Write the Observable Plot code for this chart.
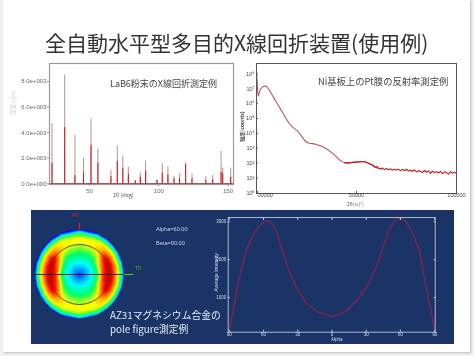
<!DOCTYPE html>
<html><head><meta charset="utf-8">
<style>
html,body{margin:0;padding:0;background:#f1f1f1;}
#slide{position:absolute;left:3px;top:0;width:467px;height:352px;background:#fff;box-shadow:1px 1px 2px #bbb;}
#root{position:absolute;left:0;top:0;width:474px;height:356px;overflow:hidden;font-family:"Noto Sans CJK JP",sans-serif;filter:blur(.3px);}
#panel{position:absolute;left:31px;top:210px;width:423px;height:134px;background:#1a3468;}
.t{position:absolute;white-space:nowrap;line-height:1;}
svg{position:absolute;background:transparent !important;}
</style>
<script src="https://cdn.jsdelivr.net/npm/d3@7"></script>
<script src="https://cdn.jsdelivr.net/npm/@observablehq/plot@0.6"></script>
</head><body><div id="root"><div id="slide"></div><div id="panel"></div></div>
<script>
// --- LaB6 powder diffraction
const peakAngle = [22.8,32,39.4,45.6,51,56,65.4,70,74,78,83,86.6,90.5,98.7,102.5,106.6,111,115,119.4,124,134,139,145,146.2,152];
const peakUpper = [4700,8500,3800,2000,5070,2730,1040,2960,2180,1300,260,860,1770,310,1560,1350,570,780,1600,780,550,650,2550,1220,1220];
const peakLower = [1600,4400,650,830,3000,1600,570,1740,1220,730,210,520,960,260,830,700,390,390,1500,390,260,310,900,800,520];
const xrdTicksY = [0,2000,4000,6000,8000];
const xrdTicksX = [50,100,150];
// --- Reflectivity (x = omega units, y = log10 intensity)
const reflX = [0,320,810,1620,2920,4540,6160,8590,11830,16690,20750,25600,29660,34520,38570,41810,44250,47490,53160,56400,59640,62880];
const reflLog = [8.19,7.52,6.51,6.85,7.11,7.18,6.96,6.40,5.68,4.61,4.12,3.36,3.27,3.00,2.60,2.19,2.01,2.04,2.10,1.97,1.70,1.59];
const tailX = [44000,45000,46000,47000,48000,49000,50000,51000,52000,53000,54000,55000,56000,57000,58000,59000,60000,61000,62000,63000,64000,65000,66000,67000,68000,69000,70000,71000,72000,73000,74000,75000,76000,77000,78000,79000,80000,81000,82000,83000,84000,85000,86000,87000,88000,89000,90000,91000,92000,93000,94000,95000,96000,97000,98000,99000,100000];
const tailLog = [2.03,2.00,2.03,2.01,2.06,2.04,2.08,2.05,2.11,2.07,2.10,2.03,1.99,1.92,1.88,1.74,1.78,1.66,1.62,1.67,1.56,1.63,1.55,1.61,1.52,1.59,1.53,1.58,1.49,1.57,1.50,1.58,1.46,1.52,1.43,1.54,1.40,1.49,1.44,1.36,1.50,1.38,1.46,1.30,1.45,1.37,1.42,1.33,1.44,1.29,1.41,1.36,1.25,1.42,1.31,1.39,1.30];
const reflPowers = [0,1,2,3,4,5,6,7,8];
const superscript = ["⁰","¹","²","³","⁴","⁵","⁶","⁷","⁸"];
const reflTicksX = [50000,100000];
// --- Average intensity versus alpha
const alpha = [-89.5,-85.6,-81.4,-75.8,-70.3,-64.7,-59.2,-55,-50.8,-45.3,-38.3,-31.4,-23,-13.3,0,11.7,22.8,31.1,39.4,46.4,50.6,54.7,60.3,65.8,71.4,76.9,82.5,86.7,89.4];
const avgIntensity = [210,810,1520,2180,2600,2865,3010,3030,2900,2420,1755,1270,870,630,490,630,960,1310,1840,2460,2820,3030,3120,2980,2650,2210,1280,660,210];
const alphaTicks = [-90,-60,-30,0,30,60,90];
const intensityTicks = [1000,2000,3000];
// --- Pole figure, polar table
const poleRadius = [0,.15,.3,.42,.52,.62,.72,.82,.9,.95,1];
const poleAzimuth = [0,15,30,40,50,65,90];
const poleValues = [
 [.18,.3,.4,.54,.82,.92,.9,.7,.56,.4,.12],
 [.18,.3,.4,.54,.8,.92,.9,.7,.56,.4,.12],
 [.18,.3,.4,.52,.7,.88,.88,.7,.56,.4,.12],
 [.18,.3,.4,.5,.6,.75,.8,.68,.55,.4,.12],
 [.18,.3,.4,.48,.55,.64,.7,.66,.54,.4,.12],
 [.18,.3,.4,.47,.53,.59,.63,.62,.53,.4,.12],
 [.18,.3,.4,.47,.52,.57,.62,.62,.53,.4,.12]
];
const jetStops = [0,.125,.375,.5,.625,.875,1];
const jetColors = ["#00008f","#0000ff","#00ffff","#00ff60","#ffff00","#ff0000","#900000"];

const FONT = '"Liberation Sans",sans-serif';
const root = document.getElementById("root");
function place(svg,left,top){svg.style.left=left+"px";svg.style.top=top+"px";root.appendChild(svg);return svg;}
function label(text,left,top,size,color,extra){
  const d=document.createElement("div");d.className="t";d.textContent=text;
  d.style.cssText=`left:${left}px;top:${top}px;font-size:${size}px;color:${color};${extra||""}`;
  root.appendChild(d);return d;
}

label("全自動水平型多目的X線回折装置(使用例)",45,32,21,"#333");

// XRD
const peaks = peakAngle.map((a,i)=>({a,u:peakUpper[i],l:peakLower[i]}));
place(Plot.plot({
  width:230,height:150,marginLeft:39,marginRight:7,marginTop:8,marginBottom:21,
  style:{fontFamily:FONT,fontSize:"6px",color:"#666",background:"transparent"},
  x:{domain:[21,154],ticks:xrdTicksX},y:{domain:[-55,9400]},
  marks:[
    Plot.ruleX(peaks,{x:"a",y1:0,y2:"u",stroke:"#bb8f8f",strokeWidth:1}),
    Plot.ruleX(peaks,{x:"a",y1:0,y2:"l",stroke:"#c8141e",strokeWidth:1}),
    Plot.ruleY([0],{stroke:"#7a1015",strokeWidth:1}),
    Plot.frame({stroke:"#999",strokeWidth:1.2}),
    Plot.axisY(xrdTicksY,{tickSize:2,tickPadding:1,tickFormat:d=>d3.format(".1e")(d).replace(/e\+(\d)/,"e+00$1"),label:null,stroke:"#999"}),
    Plot.axisX(xrdTicksX,{tickSize:2,tickPadding:2,label:null,stroke:"#999"})
  ]
}),10,55);
label("2θ (deg)",113,193,5.5,"#666");
label("強度 (cps)",1,100,5.5,"#ccc","transform:rotate(-90deg);transform-origin:center;");
label("LaB6粉末のX線回折測定例",110,79,9,"#444");

// Reflectivity
const refl = reflX.map((x,i)=>({x,y:10**reflLog[i]}));
const tail = tailX.map((x,i)=>({x,y:10**tailLog[i]}));
place(Plot.plot({
  width:230,height:150,marginLeft:16,marginRight:14,marginTop:8,marginBottom:12,
  style:{fontFamily:FONT,fontSize:"5.5px",color:"#444",background:"transparent"},
  x:{domain:[0,100000]},y:{type:"log",domain:[10**-0.05,10**8.7]},
  marks:[
    Plot.line(refl,{x:"x",y:"y",stroke:"#b0595c",strokeWidth:1.1,curve:"monotone-x"}),
    Plot.line(tail,{x:"x",y:"y",stroke:"#d5131e",strokeWidth:1.1}),
    Plot.frame({stroke:"#555",strokeWidth:1}),
    Plot.axisY(reflPowers.map(p=>10**p),{tickSize:-2,tickPadding:4,tickFormat:d=>"10"+superscript[Math.round(Math.log10(d))],label:null,stroke:"#555"}),
    Plot.axisX(reflTicksX,{tickSize:-2,tickPadding:2,label:null,stroke:"#555",tickFormat:d=>String(d)}),
    Plot.axisX([0],{tickSize:-2,tickPadding:2,label:null,stroke:"#555",textAnchor:"start",dx:1,tickFormat:()=>"00000"})
  ]
}),240,55);
label("2θ/ω(°)",347,200.5,5,"#666");
label("強度(counts)",226,124,5,"#444","transform:rotate(-90deg);transform-origin:center;font-weight:700;");
label("Ni基板上のPt膜の反射率測定例",318,77,9.3,"#444");

// Pole figure raster
const pole = [];
poleAzimuth.forEach((az,i)=>poleRadius.forEach((r,j)=>{
  const c=Math.cos(az*Math.PI/180)*r,s=Math.sin(az*Math.PI/180)*r;
  for(const [sx,sy] of [[1,1],[-1,1],[1,-1],[-1,-1]]) pole.push({x:sx*c,y:sy*s,v:poleValues[i][j]});
}));
const rasterSvg = Plot.plot({
  width:90,height:90,margin:0,
  style:{background:"transparent"},
  x:{domain:[-1,1],axis:null},y:{domain:[-1,1],axis:null},
  color:{type:"linear",domain:jetStops,range:jetColors,interpolate:"rgb"},
  marks:[Plot.raster(pole,{x:"x",y:"y",fill:"v",interpolate:"barycentric",pixelSize:1})]
});
rasterSvg.style.clipPath="circle(44.7px at 45px 45px)";
place(rasterSvg,34,229);

place(Plot.plot({
  width:130,height:130,margin:20,
  style:{background:"transparent"},
  x:{domain:[-1,1],axis:null},y:{domain:[-1,1],axis:null},
  marks:[
    Plot.dot([[0,0]],{x:d=>d[0],y:d=>d[1],r:30,fill:"none",stroke:"#5a3a10",strokeWidth:.9}),
    Plot.ruleY([0],{x1:-1,x2:1,stroke:"#222",strokeWidth:.9}),
    Plot.ruleY([0],{x1:1,x2:1.2,stroke:"#36e01c",strokeWidth:1}),
    Plot.ruleX([0],{y1:1,y2:1.14,stroke:"#e0202c",strokeWidth:1.2})
  ]
}),14,209);
label("RD",72,212,5,"#d02028");
label("TD",135,265,5,"#30c020");
label("Alpha=60.00",156,227,5.6,"#c8d2e4",'font-family:'+FONT);
label("Beta=90.00",156,241,5.6,"#c8d2e4",'font-family:'+FONT);
label("AZ31マグネシウム合金の",110,311,9.8,"#e8ecf4");
label("pole figure測定例",110,324.5,9.8,"#e8ecf4");

// Average intensity
const avg = alpha.map((a,i)=>({a,v:avgIntensity[i]}));
place(Plot.plot({
  width:230,height:130,marginLeft:17.7,marginRight:5.3,marginTop:7,marginBottom:8.3,
  style:{fontFamily:FONT,fontSize:"4.5px",color:"#d8deea",background:"transparent"},
  x:{domain:[-91,90.5]},y:{domain:[85,3115]},
  marks:[
    Plot.line(avg,{x:"a",y:"v",stroke:"#6e2850",strokeWidth:1.7}),
    Plot.frame({stroke:"#aeb8cc",strokeWidth:1}),
    Plot.axisY(intensityTicks,{tickSize:-2,tickPadding:4,label:null,stroke:"#c8d0e0",tickFormat:d3.format("d")}),
    Plot.axisY(intensityTicks,{anchor:"right",tickSize:-2,label:null,stroke:"#c8d0e0",tickFormat:()=>""}),
    Plot.axisX(alphaTicks,{tickSize:-2,tickPadding:3,label:null,stroke:"#c8d0e0",tickFormat:d=>Math.abs(d)}),
    Plot.axisX(alphaTicks,{anchor:"top",tickSize:-2,label:null,stroke:"#c8d0e0",tickFormat:()=>""})
  ]
}),210,210);
label("Alpha",331,338,4.5,"#d8deea",'font-family:'+FONT);
label("Average Intensity",197,270,5,"#d8deea","transform:rotate(-90deg);transform-origin:center;font-family:"+FONT);
</script></body></html>
